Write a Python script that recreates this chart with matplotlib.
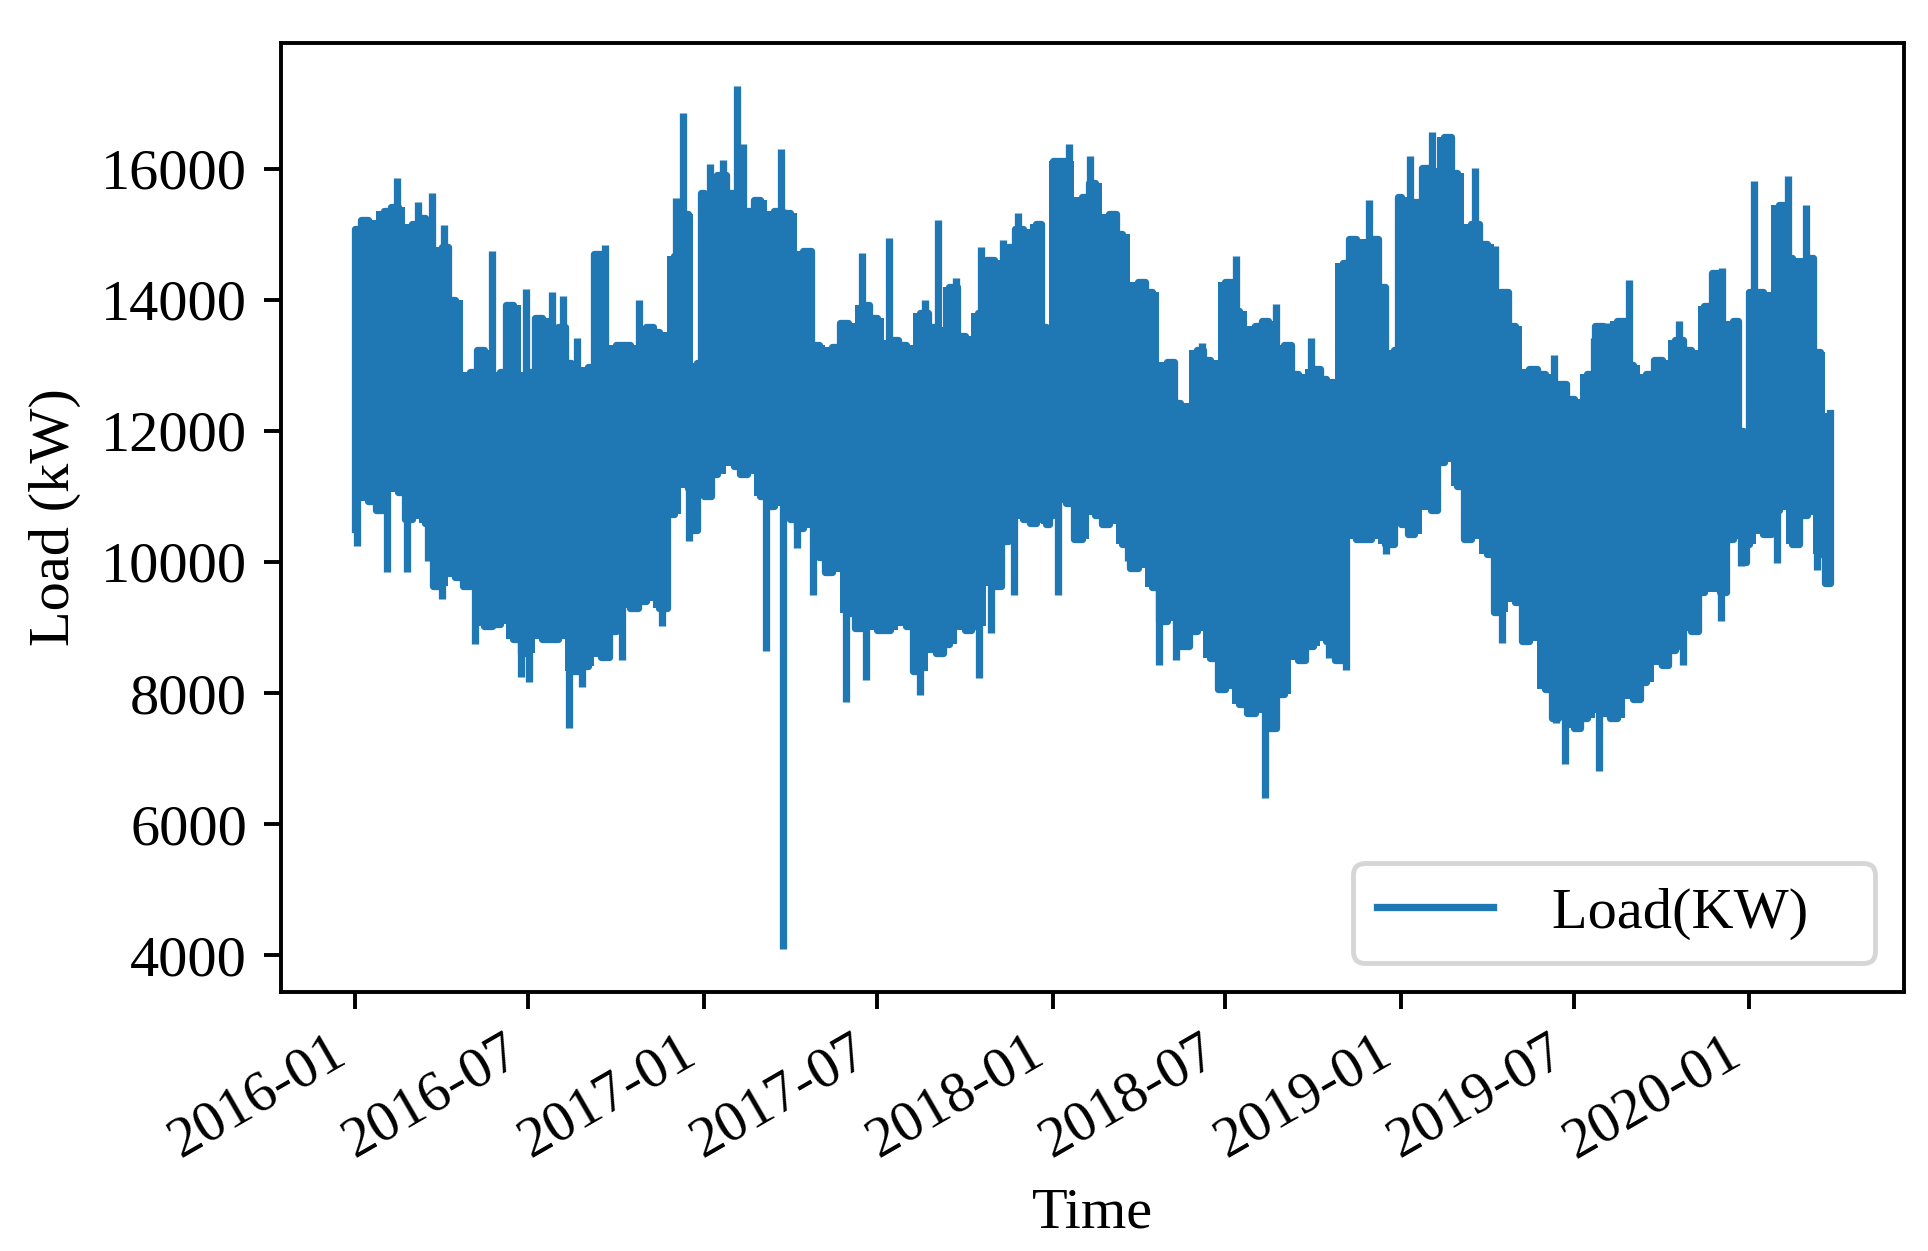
"""
Hourly load 2016-01 .. 2020-03, drawn as a dense band.

Band edges (typical daily max / min) were read off the reference about
twice a month; isolated spikes are kept in their own lists.
"""

import numpy as np
import pandas as pd
import matplotlib
matplotlib.use("Agg")
import matplotlib.pyplot as plt
import matplotlib.dates as mdates

OUTPUT = "out.png"
DPI = 350
LINE_COLOR = "#1f77b4"

# -- band edges, read roughly on the 1st / 15th of each month ------------
SEMI_MONTH = ["01-01", "01-15", "02-01", "02-15", "03-01", "03-15",
              "04-01", "04-15", "05-01", "05-15", "06-01", "06-15",
              "07-01", "07-15", "08-01", "08-15", "09-01", "09-15",
              "10-01", "10-15", "11-01", "11-15", "12-01", "12-15", "12-25"]
FULL_YEARS = [2016, 2017, 2018, 2019]
DATES_2020 = ["2020-01-01", "2020-01-15", "2020-02-01", "2020-02-15",
              "2020-03-01", "2020-03-15", "2020-03-26"]

upper_2016 = [15080, 15215, 15350, 15420, 15150, 15250, 14800, 14000, 12900,
              13240, 12900, 13920, 12900, 13720, 13580, 13040, 12970, 14700,
              13310, 13310, 13580, 13510, 14670, 15300, 13040]
lower_2016 = [10500, 10930, 10790, 11060, 10656, 10590, 9630, 9770, 9630,
              9020, 9050, 8820, 8610, 8820, 8820, 8340, 8410, 8545,
              8950, 9295, 9400, 9295, 10725, 11130, 10485]

upper_2017 = [15620, 15900, 15620, 15350, 15520, 15350, 15317, 14739, 13310,
              13276, 13650, 13920, 13720, 13378, 13310, 13790, 13580, 14194,
              13445, 13790, 14600, 14807, 15080, 15150, 13580]
lower_2017 = [11000, 11336, 11470, 11336, 11000, 10860, 10656, 10520, 10077,
              9840, 9227, 8990, 8955, 8955, 9023, 8342, 8614, 8750,
              8955, 9023, 9635, 10316, 10656, 10588, 10572]

upper_2018 = [16113, 16113, 15559, 15780, 15300, 15005, 14266, 14118, 13047,
              12419, 13232, 13084, 14266, 13823, 13601, 13675, 13306, 12862,
              12936, 12788, 14562, 14931, 14931, 14192, 13230]
lower_2018 = [10719, 10900, 10350, 10719, 10572, 10276, 9907, 9611, 9094,
              8724, 8946, 8540, 8060, 7838, 7690, 7468, 7985, 8503,
              8724, 8798, 8503, 10350, 10350, 10276, 10276]

upper_2019 = [15559, 15485, 16002, 16483, 15929, 15153, 14857, 14118, 13601,
              12936, 12862, 12715, 12493, 12862, 13601, 13675, 13010, 12862,
              13084, 13379, 13232, 13897, 14414, 13675, 12000]
lower_2019 = [10572, 10424, 10793, 11532, 11163, 10350, 10128, 9241, 9389,
              8798, 8060, 7616, 7468, 7616, 7690, 7616, 7911, 8170,
              8429, 8651, 8946, 9537, 9537, 10350, 10000]

upper_2020 = [14118, 14118, 15450, 14636, 14636, 13195, 12271]
lower_2020 = [10276, 10424, 10793, 10276, 10719, 10128, 9685]

# -- isolated spikes sticking out of the band ----------------------------
spike_dates = [
    "2016-01-03", "2016-02-04", "2016-02-14", "2016-02-25", "2016-03-07",
    "2016-03-18", "2016-03-22", "2016-04-01", "2016-04-04", "2016-05-06",
    "2016-05-24", "2016-06-23", "2016-06-28", "2016-07-02", "2016-07-26",
    "2016-08-06", "2016-08-12", "2016-08-21", "2016-08-26", "2016-09-19",
    "2016-10-07", "2016-10-25", "2016-11-18", "2016-12-03", "2016-12-10",
    "2016-12-16",
    "2017-01-07", "2017-01-21", "2017-02-04", "2017-02-11", "2017-03-07",
    "2017-03-23", "2017-03-25", "2017-04-08", "2017-04-25", "2017-05-30",
    "2017-06-15", "2017-06-20", "2017-07-14", "2017-08-15", "2017-08-20",
    "2017-09-03", "2017-09-22", "2017-10-16", "2017-10-18", "2017-10-29",
    "2017-11-10", "2017-11-22", "2017-11-26",
    "2018-01-07", "2018-01-18", "2018-02-09", "2018-03-21", "2018-04-23",
    "2018-05-10", "2018-06-07", "2018-07-12", "2018-07-30", "2018-08-12",
    "2018-08-23", "2018-09-29", "2018-10-18", "2018-11-04", "2018-11-29",
    "2018-12-16",
    "2019-01-11", "2019-02-03", "2019-03-20", "2019-04-10", "2019-04-17",
    "2019-05-10", "2019-06-10", "2019-06-12", "2019-06-22", "2019-07-22",
    "2019-07-27", "2019-08-05", "2019-08-28", "2019-10-02", "2019-10-19",
    "2019-10-23", "2019-12-02", "2019-12-03", "2019-12-23",
    "2020-01-06", "2020-01-30", "2020-02-11", "2020-02-29", "2020-03-12",
]
spike_values = [
    10247, 9840, 15862, 9840, 15487,
    10010, 15623, 9430, 15147, 8750,
    14739, 8240, 14160, 8170, 14125,
    14058, 7460, 13412, 8100, 14840,
    8510, 13990, 9020, 15555, 16848,
    10316,
    16066, 16134, 17257, 16370, 8645,
    16304, 4098, 10214, 9500, 7860,
    14705, 8200, 14943, 7970, 13990,
    15215, 14330, 8230, 14807, 8920,
    14909, 9500, 15317,
    9500, 16372, 16187, 10018, 8429,
    8503, 13342, 14672, 7653, 6397,
    13934, 13417, 8540, 8355, 15522,
    10128,
    16187, 16557, 16002, 14820, 8761,
    8761, 13158, 7542, 6914, 13417,
    6818, 13638, 14303, 8392, 13675,
    8425, 9094, 14488, 9943,
    15818, 9980, 15891, 15448, 9870,
]

# -- assemble ------------------------------------------------------------
env_dates = [f"{y}-{md}" for y in FULL_YEARS for md in SEMI_MONTH] + DATES_2020
env_upper = upper_2016 + upper_2017 + upper_2018 + upper_2019 + upper_2020
env_lower = lower_2016 + lower_2017 + lower_2018 + lower_2019 + lower_2020
env_dt = pd.to_datetime(env_dates)
spike_dt = pd.to_datetime(spike_dates)

# trace that walks up and down the band, so one Line2D carries the series
trace_x, trace_y = [], []
for i, (d, lo, up) in enumerate(zip(env_dt, env_lower, env_upper)):
    trace_x += [d, d]
    trace_y += [lo, up] if i % 2 == 0 else [up, lo]

# spikes start from the middle of the band
env_num = mdates.date2num(env_dt)
mid = (np.array(env_upper) + np.array(env_lower)) / 2
spike_base = np.interp(mdates.date2num(spike_dt), env_num, mid)

# -- plot ----------------------------------------------------------------
plt.rcParams.update({
    "font.family": ["Liberation Serif", "DejaVu Serif"],
    "font.size": 12,
    "mathtext.fontset": "stix",
})

fig = plt.figure(figsize=(1928 / DPI, 1251 / DPI), dpi=DPI)
ax = fig.add_axes([0.1457, 0.207, 0.842, 0.7586])

ax.fill_between(env_dt, env_lower, env_upper, step="mid",
                color=LINE_COLOR, lw=0)
ax.vlines(spike_dt, spike_base, spike_values, color=LINE_COLOR, lw=1.5)
ax.plot(trace_x, trace_y, color=LINE_COLOR, lw=1.5, drawstyle="steps-mid",
        label="Load(KW)   ")

ax.xaxis.set_major_locator(mdates.MonthLocator(bymonth=[1, 7]))
ax.xaxis.set_major_formatter(mdates.DateFormatter("%Y-%m"))
for lbl in ax.get_xticklabels():
    lbl.set_rotation(30)
    lbl.set_ha("right")

ax.set_xlabel("Time")
ax.set_ylabel("Load (kW)")
ax.legend(loc="lower right", handletextpad=1.0)

fig.savefig(OUTPUT, dpi=DPI)
print(f"Saved: {OUTPUT}")
